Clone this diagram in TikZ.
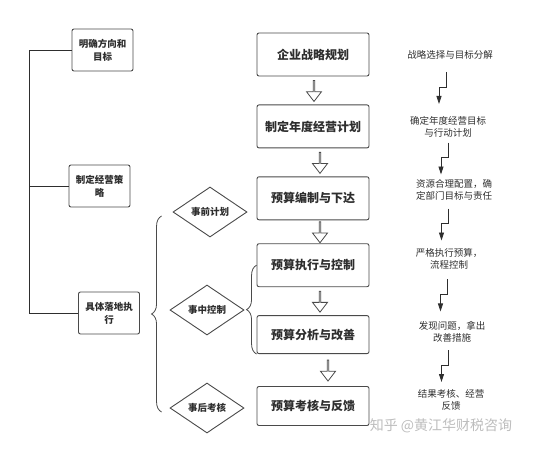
\documentclass[tikz,border=0pt]{standalone}
\usepackage{fontspec}
\setmainfont{Noto Sans CJK SC}
\usepackage{tikz}
\usetikzlibrary{positioning,shapes.geometric,shapes.arrows,arrows.meta,calc,decorations.pathreplacing}
\definecolor{bdink}{HTML}{2E2E2E}
\definecolor{bdline}{HTML}{4A4A4A}
\definecolor{bdmark}{HTML}{BDBDBD}
\tikzset{
  stage/.style={draw=bdline,line width=0.9pt,rounded corners=2pt,minimum width=112pt,minimum height=43pt,font=\fontsize{12}{14}\selectfont\bfseries,text=bdink,align=center,inner sep=2pt},
  aim/.style={stage,minimum width=61pt,minimum height=42pt,font=\fontsize{9.5}{13}\selectfont\bfseries},
  phase/.style={diamond,draw=bdline,line width=0.9pt,minimum width=74pt,minimum height=50pt,inner sep=0pt,font=\fontsize{9.5}{12}\selectfont\bfseries,text=bdink},
  note/.style={font=\fontsize{9.5}{12}\selectfont,text=bdink,align=center},
  hollow/.style={single arrow,draw=bdline,line width=0.8pt,fill=white,rotate=-90,minimum height=21pt,minimum width=15pt,single arrow head extend=3.5pt,single arrow tip angle=75,inner sep=0pt},
  jog/.style={-{Triangle[length=8pt,width=5pt]},line width=0.8pt,draw=bdink},
  tree/.style={line width=0.9pt,draw=bdink},
  brace/.style={decorate,decoration={brace,amplitude=10pt},line width=0.8pt,draw=bdline},
}
\begin{document}
\begin{tikzpicture}[x=1pt,y=-1pt,node distance=28pt]
  \useasboundingbox (0,0) rectangle (534,452);
  % left column
  \node[aim] (goal) at (102.5,50) {明确方向和\\目标};
  \node[aim] (strat) at (99.5,186) {制定经营策\\略};
  \node[aim] (land) at (109,313) {具体落地执\\行};
  \coordinate (trunk) at (29,0);
  \draw[tree] (goal.west) -- (goal.west -| trunk) -- (land.west -| trunk) -- (land.west);
  \draw[tree] (strat.west) -- (strat.west -| trunk);
  % phases
  \node[phase] (pre) at (210,212) {事前计划};
  \node[phase] (mid) at (207,310) {事中控制};
  \node[phase] (post) at (207,408) {事后考核};
  \draw[brace] ($(post.west)+(-8,4)$) -- ($(post.west |- pre.west)+(-8,4)$);
  % budget chain
  \node[stage] (plan) at (313,54.5) {企业战略规划};
  \node[stage,below=of plan] (annual) {制定年度经营计划};
  \node[stage,below=of annual] (issue) {预算编制与下达};
  \node[stage,below=23pt of issue] (exe) {预算执行与控制};
  \node[stage,below=of exe,minimum height=38pt] (ana) {预算分析与改善};
  \node[stage,below=32pt of ana,minimum height=39pt] (review) {预算考核与反馈};
  \foreach \a/\b/\dx in {plan/annual/1,annual/issue/7,issue/exe/7,exe/ana/7,ana/review/15}
    \node[hollow] (arr-\a) at ($(\a.south)!.5!(\b.north)+(\dx,0)$) {};
  \draw[brace] (ana.south west) -- (ana.south west |- exe.west);
  % notes
  \node[note] (n1) at (450,55) {战略选择与目标分解};
  \node[note] (n2) at (448,127) {确定年度经营目标\\与行动计划};
  \node[note] (n3) at (454,190) {资源合理配置，确\\定部门目标与责任};
  \node[note] (n4) at (449,259) {严格执行预算，\\流程控制};
  \node[note] (n5) at (452,332) {发现问题，拿出\\改善措施};
  \node[note] (n6) at (451,400) {结果考核、经营\\反馈};
  \foreach \a/\b in {n1/n2,n2/n3,n3/n4,n4/n5,n5/n6}
    \draw[jog] ($(\a.south)!.5!(\b.north)+(-3,-16)$) -- ++(0,15) -- ++(-7,0) -- ++(0,17);
  \node[font=\fontsize{14}{16}\selectfont,text=bdmark] (mark) at (441,426) {知乎 @黄江华财税咨询};
\end{tikzpicture}
\end{document}
